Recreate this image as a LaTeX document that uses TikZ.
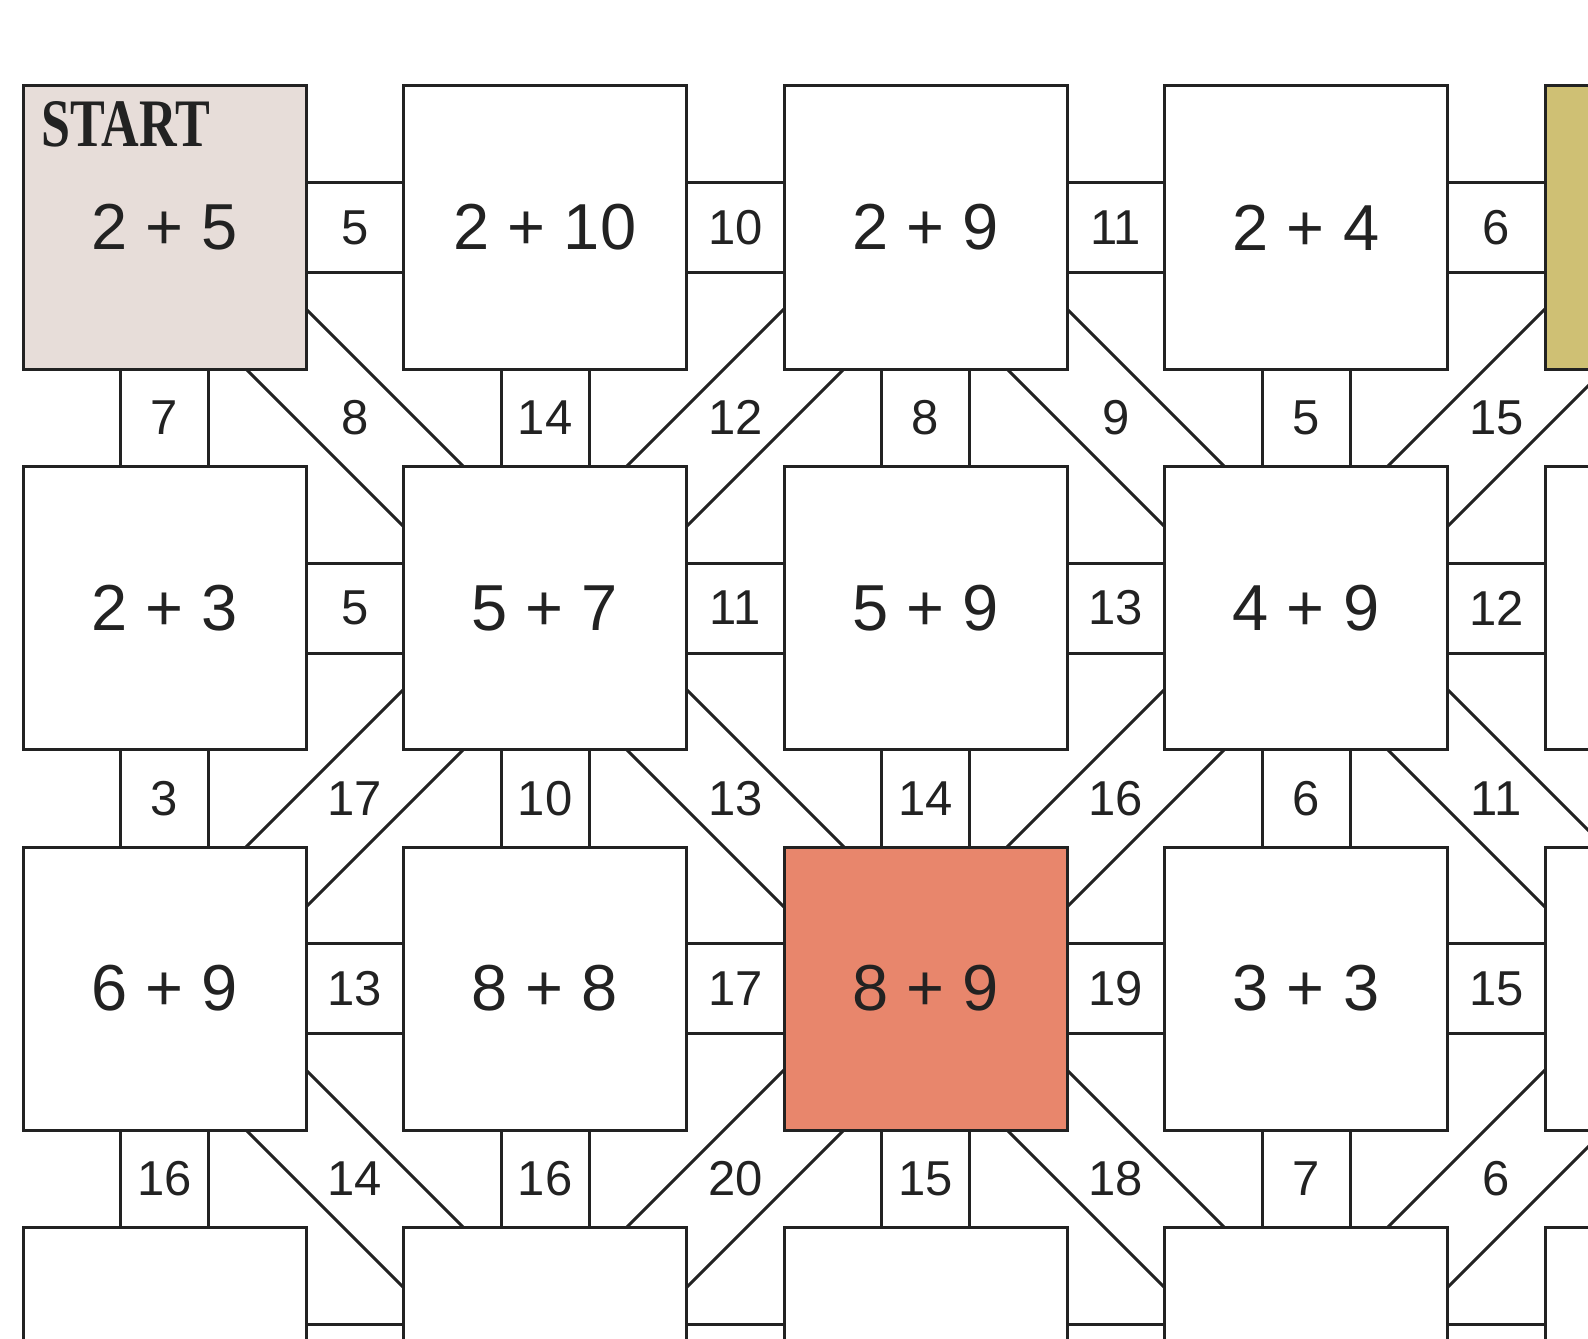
\documentclass[tikz,border=0pt]{standalone}
\usepackage{graphicx}
\usepackage{fontspec}
\setmainfont{Liberation Sans}
\newfontfamily\startfont{Liberation Serif}
\usetikzlibrary{calc}
\pgfdeclarelayer{bg}
\pgfsetlayers{bg,main}
\definecolor{startfill}{RGB}{231,221,217}
\definecolor{goalfill}{RGB}{232,134,108}
\definecolor{olivefill}{RGB}{207,192,116}
\definecolor{ink}{RGB}{34,34,34}
% corridors: horizontal, vertical, diagonal (\), anti-diagonal (/)
\newcommand\HCor[3]{%
  \draw[wall] ($(#1.center)+(0,-45)$) -- ($(#2.center)+(0,-45)$)
              ($(#1.center)+(0,45)$) -- ($(#2.center)+(0,45)$);
  \node[lbl] (l#1#2) at ($(#1.center)!0.5!(#2.center)$) {#3};}
\newcommand\HWall[2]{%
  \draw[wall] ($(#1.center)+(0,-45)$) -- ($(#2.center)+(0,-45)$)
              ($(#1.center)+(0,45)$) -- ($(#2.center)+(0,45)$);}
\newcommand\VCor[3]{%
  \draw[wall] ($(#1.center)+(-44,0)$) -- ($(#2.center)+(-44,0)$)
              ($(#1.center)+(44,0)$) -- ($(#2.center)+(44,0)$);
  \node[lbl] (l#1#2) at ($(#1.center)!0.5!(#2.center)$) {#3};}
\newcommand\DCor[3]{%
  \draw[wall] ($(#1.center)+(30,-30)$) -- ($(#2.center)+(30,-30)$)
              ($(#1.center)+(-30,30)$) -- ($(#2.center)+(-30,30)$);
  \node[lbl] (l#1#2) at ($(#1.center)!0.5!(#2.center)$) {#3};}
\newcommand\ACor[3]{%
  \draw[wall] ($(#1.center)+(30,30)$) -- ($(#2.center)+(30,30)$)
              ($(#1.center)+(-30,-30)$) -- ($(#2.center)+(-30,-30)$);
  \node[lbl] (l#1#2) at ($(#1.center)!0.5!(#2.center)$) {#3};}
\begin{document}
\begin{tikzpicture}[x=0.5pt,y=-0.5pt,
  box/.style={draw=ink, line width=1.5pt, fill=white,
    minimum width=141.5pt, minimum height=141.5pt, inner sep=0pt,
    font=\fontsize{32.5}{34}\selectfont, text=ink},
  wall/.style={draw=ink, line width=1.5pt},
  lbl/.style={font=\fontsize{24.5}{26}\selectfont, text=ink, inner sep=0pt}]
\useasboundingbox (0,0) rectangle (1588,1338);
\clip (0,0) rectangle (1588,1338);
% row 0
\node[box, fill=startfill] (b00) at (164.5,227.5) {2 + 5};
\node[box] (b01) at (545,227.5) {2 + 10};
\node[box] (b02) at (925.5,227.5) {2 + 9};
\node[box] (b03) at (1306,227.5) {2 + 4};
\node[box, fill=olivefill] (b04) at (1686.5,227.5) {};
% row 1
\node[box] (b10) at (164.5,608) {2 + 3};
\node[box] (b11) at (545,608) {5 + 7};
\node[box] (b12) at (925.5,608) {5 + 9};
\node[box] (b13) at (1306,608) {4 + 9};
\node[box] (b14) at (1686.5,608) {};
% row 2
\node[box] (b20) at (164.5,988.5) {6 + 9};
\node[box] (b21) at (545,988.5) {8 + 8};
\node[box, fill=goalfill] (b22) at (925.5,988.5) {8 + 9};
\node[box] (b23) at (1306,988.5) {3 + 3};
\node[box] (b24) at (1686.5,988.5) {};
% row 3
\node[box] (b30) at (164.5,1369) {};
\node[box] (b31) at (545,1369) {};
\node[box] (b32) at (925.5,1369) {};
\node[box] (b33) at (1306,1369) {};
\node[box] (b34) at (1686.5,1369) {};
% start label
\node[inner sep=0pt, text=ink] (start) at (126,124.5)
  {\resizebox{84pt}{22.5pt}{\startfont\bfseries START}};
\begin{pgfonlayer}{bg}
\begin{scope}
\clip (0,0) rectangle (1588,1338);
% horizontal corridors
\HCor{b00}{b01}{5}  \HCor{b01}{b02}{10} \HCor{b02}{b03}{11} \HCor{b03}{b04}{6}
\HCor{b10}{b11}{5}  \HCor{b11}{b12}{11} \HCor{b12}{b13}{13} \HCor{b13}{b14}{12}
\HCor{b20}{b21}{13} \HCor{b21}{b22}{17} \HCor{b22}{b23}{19} \HCor{b23}{b24}{15}
\HWall{b30}{b31} \HWall{b31}{b32} \HWall{b32}{b33} \HWall{b33}{b34}
% vertical corridors
\VCor{b00}{b10}{7}  \VCor{b01}{b11}{14} \VCor{b02}{b12}{8}  \VCor{b03}{b13}{5}
\VCor{b10}{b20}{3}  \VCor{b11}{b21}{10} \VCor{b12}{b22}{14} \VCor{b13}{b23}{6}
\VCor{b20}{b30}{16} \VCor{b21}{b31}{16} \VCor{b22}{b32}{15} \VCor{b23}{b33}{7}
% diagonal corridors
\DCor{b00}{b11}{8}  \ACor{b02}{b11}{12} \DCor{b02}{b13}{9}  \ACor{b04}{b13}{15}
\ACor{b11}{b20}{17} \DCor{b11}{b22}{13} \ACor{b13}{b22}{16} \DCor{b13}{b24}{11}
\DCor{b20}{b31}{14} \ACor{b22}{b31}{20} \DCor{b22}{b33}{18} \ACor{b24}{b33}{6}
\end{scope}
\end{pgfonlayer}
\end{tikzpicture}
\end{document}
